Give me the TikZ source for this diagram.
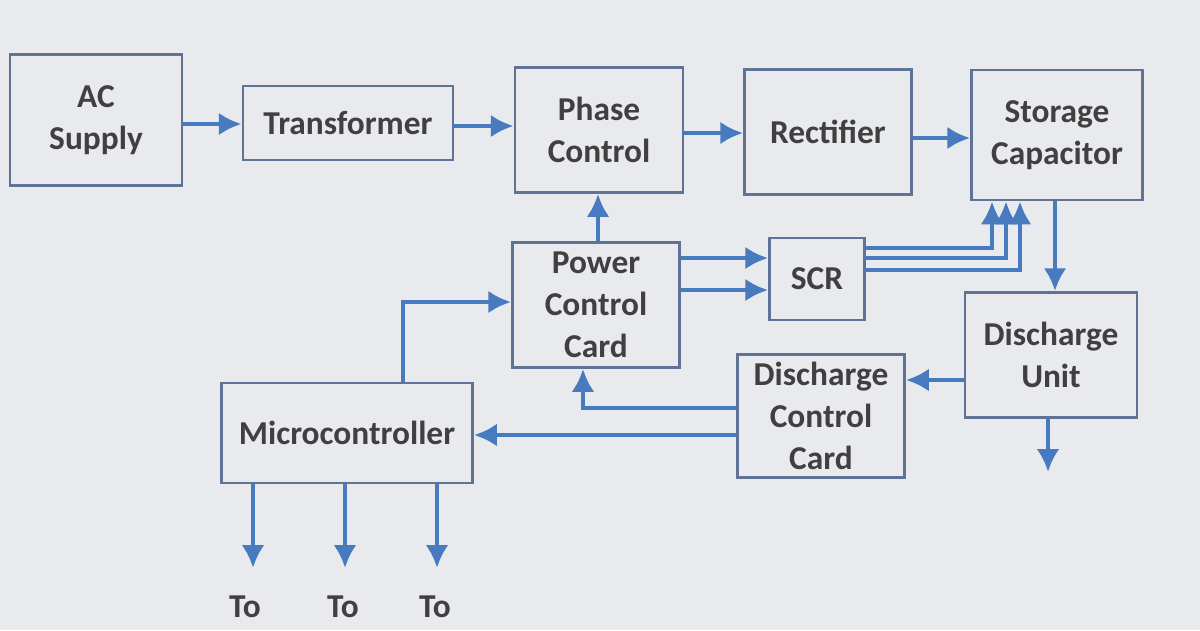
\documentclass[tikz,border=0pt]{standalone}
\usepackage{fontspec}
\setmainfont{Carlito}
\usetikzlibrary{arrows.meta}
\definecolor{arrowblue}{RGB}{72,122,192}
\definecolor{boxline}{RGB}{95,115,150}
\definecolor{paper}{RGB}{232,234,238}
\tikzset{
  blk/.style={draw=boxline, line width=1.6pt, align=center, text=black!75,
    font=\fontsize{19}{24}\selectfont\bfseries, inner sep=0pt},
  link/.style={draw=arrowblue, line width=2.6pt, -{Latex[length=13pt,width=13pt]}},
  tolabel/.style={text=black!75, font=\fontsize{19}{24}\selectfont\bfseries}
}
\begin{document}
\begin{tikzpicture}[x=0.02cm, y=-0.02cm]

	\fill [paper] (0,0) rectangle (1200,630);
	\useasboundingbox (0,0) rectangle (1200,630);

	% top row
	\node [blk, minimum width=172*0.02cm, minimum height=131*0.02cm] (ac) at (96,120) {AC\\Supply};
	\node [blk, minimum width=210*0.02cm, minimum height=74*0.02cm] (tr) at (348,123) {Transformer};
	\node [blk, minimum width=168*0.02cm, minimum height=125*0.02cm] (ph) at (599,130) {Phase\\Control};
	\node [blk, minimum width=167*0.02cm, minimum height=125*0.02cm] (re) at (828,132) {Rectifier};
	\node [blk, minimum width=171*0.02cm, minimum height=130*0.02cm] (sc) at (1057,135) {Storage\\Capacitor};

	% middle row
	\node [blk, minimum width=167*0.02cm, minimum height=125*0.02cm] (pc) at (596,305) {Power\\Control\\Card};
	\node [blk, minimum width=95*0.02cm, minimum height=82*0.02cm] (scr) at (817,279) {SCR};
	\node [blk, minimum width=172*0.02cm, minimum height=125*0.02cm] (du) at (1051,355) {Discharge\\Unit};
	\node [blk, minimum width=167*0.02cm, minimum height=123*0.02cm] (dc) at (821,416) {Discharge\\Control\\Card};
	\node [blk, minimum width=251*0.02cm, minimum height=100*0.02cm] (mc) at (347,433) {Microcontroller};

	% outputs
	\coordinate (o1) at (253,568);
	\coordinate (o2) at (345,568);
	\coordinate (o3) at (437,568);
	\coordinate (o4) at (1048,472);
	\node [tolabel] (t1) at (245,607) {To};
	\node [tolabel] (t2) at (343,607) {To};
	\node [tolabel] (t3) at (435,607) {To};

	% connectors
	\draw [link] (ac.east |- 0,124) -- (tr.west |- 0,124);
	\draw [link] (tr.east |- 0,126) -- (ph.west |- 0,126);
	\draw [link] (ph.east |- 0,133) -- (re.west |- 0,133);
	\draw [link] (re.east |- 0,138) -- (sc.west |- 0,138);
	\draw [link] (pc.north -| 598,0) -- (ph.south -| 598,0);
	\draw [link] (pc.east |- 0,258) -- (scr.west |- 0,258);
	\draw [link] (pc.east |- 0,290) -- (scr.west |- 0,290);
	\draw [link] (scr.east |- 0,248) -| (sc.south -| 992,0);
	\draw [link] (scr.east |- 0,258) -| (sc.south -| 1006,0);
	\draw [link] (scr.east |- 0,270) -| (sc.south -| 1020,0);
	\draw [link] (sc.south -| 1055,0) -- (du.north -| 1055,0);
	\draw [link] (du.south -| 1048,0) -- (o4);
	\draw [link] (du.west |- 0,380) -- (dc.east |- 0,380);
	\draw [link] (dc.west |- 0,408) -| (pc.south -| 583,0);
	\draw [link] (dc.west |- 0,435) -- (mc.east |- 0,435);
	\draw [link] (mc.north -| 403,0) |- (pc.west |- 0,302);
	\draw [link] (mc.south -| 253,0) -- (o1);
	\draw [link] (mc.south -| 345,0) -- (o2);
	\draw [link] (mc.south -| 437,0) -- (o3);
\end{tikzpicture}
\end{document}
